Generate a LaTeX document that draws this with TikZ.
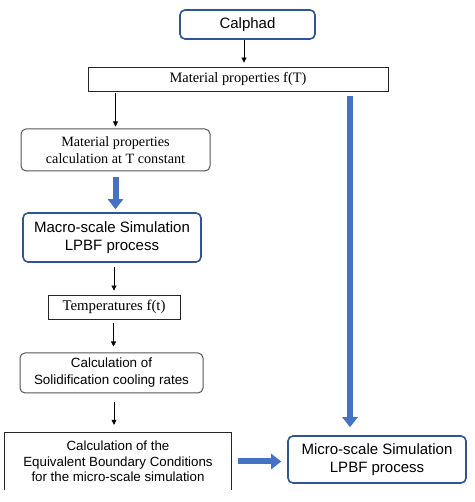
\documentclass[tikz,border=0pt]{standalone}
\usepackage{fontspec}
\setmainfont{Liberation Serif}
\newfontfamily\arialfont{Liberation Sans}
\usetikzlibrary{arrows.meta}

\definecolor{boxblue}{RGB}{47,85,151}
\definecolor{arrowblue}{RGB}{68,114,196}
\definecolor{boxgray}{RGB}{85,85,85}

\tikzset{
    bluebox/.style={draw=boxblue, line width=1.6pt, rounded corners=5pt, align=center, inner sep=0pt,
        font=\arialfont\fontsize{15}{18.5}\selectfont},
    graybox/.style={draw=boxgray, line width=1pt, rounded corners=5pt, align=center, inner sep=0pt},
    plainbox/.style={draw=black!85, line width=0.8pt, align=center, inner sep=0pt},
    thin arrow/.style={-{Triangle[length=5pt,width=5pt]}, line width=0.7pt},
    thick arrow/.style={-{Triangle[length=10pt,width=15pt]}, line width=6pt, arrowblue}
}

\begin{document}
\begin{tikzpicture}[x=1pt, y=1pt]
        \useasboundingbox (0,0) rectangle (474,502);

        \node[bluebox, minimum width=135pt, minimum height=29pt] (calphad) at (247.5,477.5) {Calphad};
        \node[plainbox, minimum width=300pt, minimum height=24pt, font=\fontsize{14.4}{17}\selectfont] (matfT) at (238,423) {Material properties f(T)};
        \node[graybox, minimum width=189pt, minimum height=42pt, font=\fontsize{14.2}{16.5}\selectfont] (matconst) at (115.5,352) {Material properties\\calculation at T constant};
        \node[bluebox, minimum width=178pt, minimum height=49pt] (macro) at (112,264.5) {Macro-scale Simulation\\LPBF process};
        \node[plainbox, minimum width=132pt, minimum height=24pt, font=\fontsize{14.8}{17}\selectfont] (temps) at (114,195) {Temperatures f(t)};
        \node[graybox, minimum width=183pt, minimum height=40pt, font=\arialfont\fontsize{13.4}{17}\selectfont] (solid) at (111.5,129) {Calculation of\\Solidification cooling rates};
        \node[minimum width=226pt, minimum height=57pt, align=center, inner sep=0pt, font=\arialfont\fontsize{13.3}{15.5}\selectfont] (equiv) at (118,40.5) {Calculation of the\\Equivalent Boundary Conditions\\for the micro-scale simulation};
        \draw[black!85, line width=0.8pt] (equiv.south west) |- (equiv.north east) -- (equiv.south east);
        \node[bluebox, minimum width=178pt, minimum height=47pt] (micro) at (377,42.5) {Micro-scale Simulation\\LPBF process};

        \draw[thin arrow, shorten >=4pt] ([xshift=-3.5pt]calphad.south) -- ([xshift=-3.5pt]calphad.south |- matfT.north);
        \draw[thin arrow, shorten <=2pt, shorten >=2pt] (matconst.north |- matfT.south) -- (matconst.north);
        \draw[thick arrow, shorten <=6pt, shorten >=3pt] (matconst.south) -- (matconst.south |- macro.north);
        \draw[thin arrow, shorten <=4pt, shorten >=4pt] (temps.north |- macro.south) -- (temps.north);
        \draw[thin arrow, shorten <=4pt, shorten >=6pt] ([xshift=-0.5pt]temps.south) -- ([xshift=-0.5pt]temps.south |- solid.north);
        \draw[thin arrow, shorten <=9pt, shorten >=8pt] ([xshift=2.5pt]solid.south) -- ([xshift=2.5pt]solid.south |- equiv.north);
        \draw[thick arrow, shorten <=7pt, shorten >=6pt] (equiv.east) -- (equiv.east -| micro.west);
        \draw[thick arrow, shorten <=5pt, shorten >=8pt] ([xshift=-27pt]micro.north |- matfT.south) -- ([xshift=-27pt]micro.north);
    \end{tikzpicture}
\end{document}
